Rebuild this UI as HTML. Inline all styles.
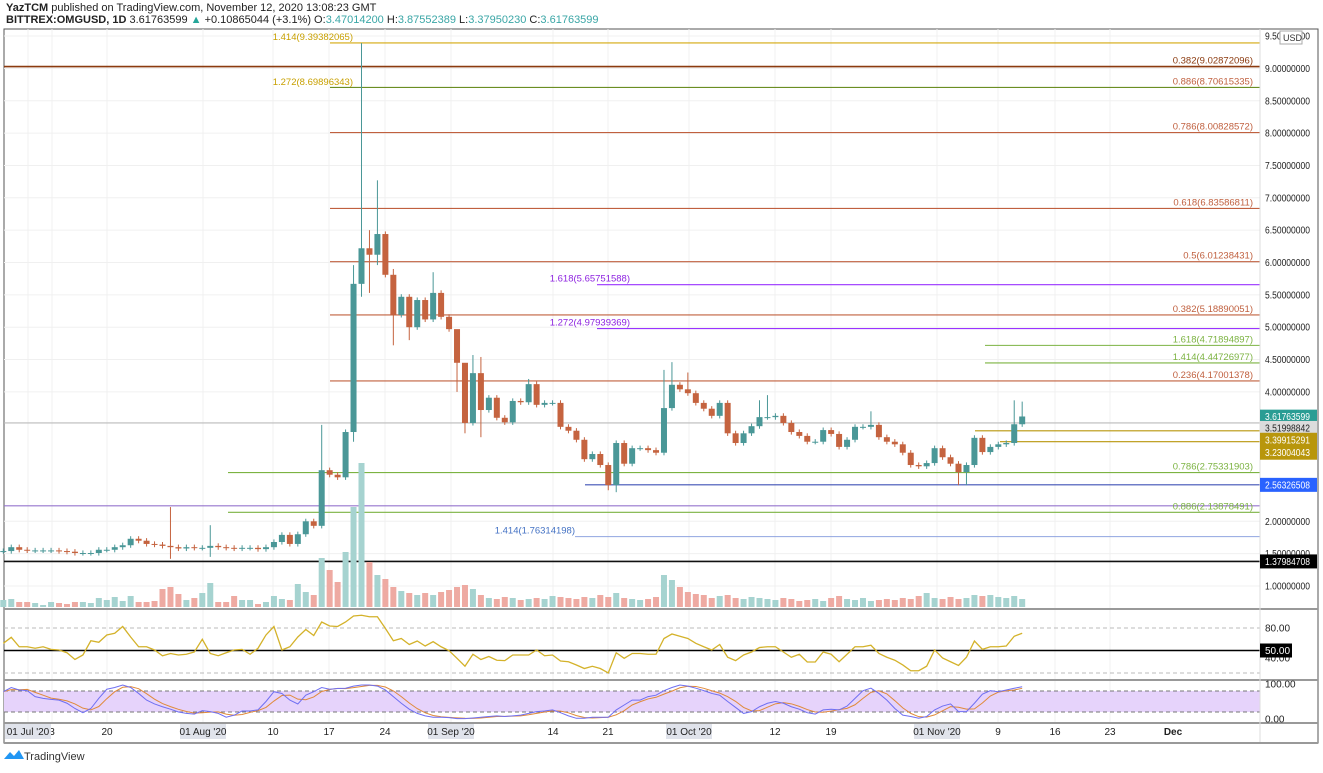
<!DOCTYPE html>
<html><head><meta charset="utf-8">
<style>
html,body{margin:0;padding:0;background:#fff;}
body{width:1323px;height:768px;overflow:hidden;font-family:"Liberation Sans",sans-serif;}
svg text{font-family:"Liberation Sans",sans-serif;}
</style></head>
<body>
<svg id="chart" width="1323" height="768" viewBox="0 0 1323 768" xmlns="http://www.w3.org/2000/svg">
  <text x="6" y="11" font-size="11" fill="#222"><tspan font-weight="bold">YazTCM</tspan> published on TradingView.com, November 12, 2020 13:08:23 GMT</text>
  <text x="6" y="23" font-size="11" fill="#222"><tspan font-weight="bold">BITTREX:OMGUSD, 1D</tspan> 3.61763599 <tspan fill="#26a69a">▲</tspan> +0.10865044 (+3.1%) O:<tspan fill="#3aa6a6">3.47014200</tspan> H:<tspan fill="#3aa6a6">3.87552389</tspan> L:<tspan fill="#3aa6a6">3.37950230</tspan> C:<tspan fill="#3aa6a6">3.61763599</tspan></text>
  <g id="grid"></g>
  <g id="fibs"></g>
  <g id="vol"></g>
  <g id="candles"></g>
  <g id="rsi"></g>
  <g id="stoch"></g>
  <g id="axes"></g>
  <g>
    <path d="M4 759 L10 752 L14 756 L19 750 L24 759 Z" fill="#2196f3"/>
    <text x="24" y="760" font-size="11" fill="#333">TradingView</text>
  </g>
</svg>
<script>
const closes=[1.54,1.60,1.56,1.55,1.55,1.55,1.55,1.54,1.53,1.51,1.51,1.51,1.56,1.56,1.60,1.63,1.73,1.70,1.65,1.64,1.62,1.60,1.58,1.60,1.59,1.59,1.62,1.60,1.59,1.58,1.59,1.59,1.57,1.60,1.68,1.79,1.65,1.80,2.00,1.93,2.79,
2.72,2.68,3.38,5.67,6.22,6.12,6.44,5.81,5.19,5.47,5.00,5.42,5.12,5.53,5.16,4.97,4.45,3.52,4.29,3.72,3.91,3.60,3.53,3.86,3.84,4.12,3.80,3.83,3.83,3.46,3.40,3.26,2.96,3.04,2.87,2.56,3.21,2.89,3.13,3.13,3.10,3.06,3.75,4.11,4.04,3.98,3.83,3.74,3.63,3.83,3.36,3.21,3.36,3.47,3.61,3.61,3.63,3.52,3.38,3.32,3.23,3.23,3.41,3.35,3.15,3.26,3.46,3.46,3.49,3.30,3.23,3.19,3.06,2.87,2.85,2.90,3.13,2.99,2.89,2.76,2.87,3.29,3.07,3.15,3.19,3.21,3.50,3.62];
const highOverride={21:2.22,26:1.94,40:3.49,44:5.96,45:9.39,46:6.5,47:7.27,49:5.9,54:5.85,57:4.9,58:4.2,59:4.57,60:4.54,66:4.2,83:4.34,84:4.46,86:4.3,95:3.87,96:3.95,109:3.7,127:3.87,128:3.85};
const lowOverride={21:1.42,26:1.45,44:3.23,45:5.47,46:5.53,47:5.96,49:4.72,51:4.8,57:4.0,58:3.36,60:3.3,76:2.48,77:2.45,120:2.56,121:2.56};
const volumes=[7,8,5,5,4,2,5,4,3,5,5,4,9,7,10,6,11,5,5,6,18,20,13,7,9,14,24,5,5,11,7,7,3,5,11,8,7,23,15,12,49,37,25,55,100,144,45,32,28,20,16,14,12,14,12,15,17,20,22,18,12,9,8,10,9,7,8,9,8,11,10,9,8,10,9,12,10,14,9,8,7,8,10,32,27,20,15,13,12,9,11,12,9,8,10,9,8,7,9,8,6,7,8,6,9,11,8,7,9,6,7,8,7,9,8,11,14,9,8,10,8,9,12,11,12,10,9,11,8];
const rsiValues=[59.6,67.6,55,55,53,55,51.5,50.7,47,38,44,63,61,70.7,73,82,68,55,55,50.7,43,46,44,45,48,65,46,43,47,50.7,51.5,45,53,70.7,82,50.7,55,68,78,70,88,82.7,82,88,96,97,95,95,79.5,63,66,58,62.7,56,61.8,55,49.8,39.6,29,45,38,42,37,36.5,44,44,44,50.7,43,44,36,35,30.7,26,29,26,20,47,39.6,46,46,45,45,66,72,69,66,59.6,55,50.7,58,41,36.5,44,48,54,55,55,48,41,45,34.7,34.7,48,45,35,45,55,55,57,46,41,37,30.7,23,23,29,50.7,40,35,30,41,62.7,51.5,55,55,56,69,73];
const stochK=[78,90,83,81,64,59,56,54,45,30,18,30,59,85,90,97,90,73,54,43,35,28,20,16,14,24,21,16,5,11,23,23,26,50,78,73,54,43,68,78,90,85,87,88,94,97,97,94,83,64,45,28,16,9,5,5,4,1,1,3,5,7,9,7,9,11,16,21,23,26,18,9,2,2,5,5,5,26,40,54,54,64,68,81,90,97,94,88,81,73,68,50,33,16,21,35,45,50,45,35,28,18,14,26,28,26,37,59,81,88,73,54,30,11,7,2,7,26,37,43,21,21,45,71,81,78,83,88,92];
const priceTicks=[9.5,9.0,8.5,8.0,7.5,7.0,6.5,6.0,5.5,5.0,4.5,4.0,2.0,1.5,1.0];
const timeLabels=[["3",52],["20",107],["10",273],["17",329],["24",385],["14",553],["21",608],["12",775],["19",831],["9",998],["16",1055],["23",1110]];
const monthLabels=[["01 Jul '20",28],["01 Aug '20",203],["01 Sep '20",451],["01 Oct '20",689],["01 Nov '20",937]];
const fibPrices=[9.39382065,9.02872096,8.70615335,8.00828572,6.83586811,6.01238431,5.65751588,5.18890051,4.97939369,4.71894897,4.44726977,4.17001378,3.51998842,3.39915291,3.23004043,2.75331903,2.56326508,2.24,2.13878491,1.76314198,1.37984708];
const fibLabels=["1.414(9.39382065)","0.382(9.02872096)","0.886(8.70615335)","0.786(8.00828572)","0.618(6.83586811)","0.5(6.01238431)","1.618(5.65751588)","0.382(5.18890051)","1.272(4.97939369)","1.618(4.71894897)","1.414(4.44726977)","0.236(4.17001378)","","","","0.786(2.75331903)","","","0.886(2.13878491)","1.414(1.76314198)",""];

const NS="http://www.w3.org/2000/svg";
function mk(tag,attrs,parent){const e=document.createElementNS(NS,tag);for(const k in attrs)e.setAttribute(k,attrs[k]);parent.appendChild(e);return e;}
const X=i=>3.3+7.96*i;
const Y=p=>586-(p-1)*64.7;
const RY=v=>650.5-(v-50)*0.75;
const SY=v=>712-(v-20)*0.35;
const PR=1260;

const grid=document.getElementById('grid');
mk('rect',{x:4,y:29,width:1314,height:714,fill:'none',stroke:'#555','stroke-width':1},grid);
priceTicks.forEach(p=>{mk('line',{x1:4,x2:PR,y1:Y(p),y2:Y(p),stroke:'#f0f0f0'},grid);});
timeLabels.concat(monthLabels).forEach(t=>{mk('line',{x1:t[1],x2:t[1],y1:29,y2:722,stroke:'#f0f0f0'},grid);});

const fibColors=["#d4a90f","#8b3a0f","#6b8e23","#c0603f","#c0603f","#c0603f","#9933ff","#c0603f","#9933ff","#7cb342","#7cb342","#c0603f","#bbbbbb","#b8960c","#b8960c","#7cb342","#3f51b5","#9575cd","#7cb342","#90a4e0","#111111"];
const fibStart=[330,4,330,330,330,330,597,330,597,985,985,330,4,975,1000,228,585,4,228,575,4];
const labelColors=["#c8a000","#8b3a0f","#c0603f","#c0603f","#c0603f","#c0603f","#8e24e0","#c0603f","#8e24e0","#7cb342","#7cb342","#c0603f","","","","#7cb342","","","#7cb342","#4472c4",""];
const fibs=document.getElementById('fibs');
fibPrices.forEach((p,i)=>{
  const l=mk('line',{x1:fibStart[i],x2:PR,y1:Y(p),y2:Y(p),stroke:fibColors[i],'stroke-width':(i==1||i==20)?1.6:1.1},fibs);
  
  
  if(fibLabels[i]){
    const left=(i==0||i==6||i==8||i==19);
    const t=mk('text',{x:left?(i==0?353:(i==19?575:630)):1253,y:Y(p)-3,'font-size':9.5,'text-anchor':'end',fill:labelColors[i]},fibs);
    t.textContent=fibLabels[i];
    
    
  }
});
const extra=mk('text',{x:353,y:Y(8.69896343)-3,'font-size':9.5,'text-anchor':'end',fill:'#c8a000'},fibs);
extra.textContent="1.272(8.69896343)";



const vol=document.getElementById('vol');
const vmax=Math.max(...volumes);
volumes.forEach((v,i)=>{
  const o=i?closes[i-1]:closes[0];const up=closes[i]>=o;
  const h=v/vmax*144;
  const r=mk('rect',{x:X(i)-3,y:607-h,width:6,height:h,fill:up?'#a6d3d0':'#eeaaa2'},vol);
  
  
});

const cg=document.getElementById('candles');
closes.forEach((c,i)=>{
  const o=i?closes[i-1]:c;const up=c>=o;
  const hi=highOverride[i]!==undefined?highOverride[i]:Math.max(o,c)+0.04;
  const lo=lowOverride[i]!==undefined?lowOverride[i]:Math.min(o,c)-0.04;
  const col=up?'#4a9797':'#c5633f';
  const w=mk('line',{x1:X(i),x2:X(i),y1:Y(hi),y2:Y(lo),stroke:col,'stroke-width':1},cg);
  
  
  const top=Y(Math.max(o,c)),bh=Math.max(1,Math.abs(Y(o)-Y(c)));
  const b=mk('rect',{x:X(i)-3,y:top,width:6,height:bh,fill:col},cg);
  
  
});

const rg=document.getElementById('rsi');
mk('line',{x1:4,x2:1318,y1:609,y2:609,stroke:'#999','stroke-width':2},rg);
mk('line',{x1:4,x2:PR,y1:RY(80),y2:RY(80),stroke:'#bbb','stroke-dasharray':'4 3'},rg);
mk('line',{x1:4,x2:PR,y1:RY(20),y2:RY(20),stroke:'#bbb','stroke-dasharray':'4 3'},rg);
mk('line',{x1:4,x2:PR,y1:RY(50),y2:RY(50),stroke:'#000','stroke-width':1.5},rg);
const rl=mk('polyline',{points:rsiValues.map((v,i)=>X(i)+','+RY(v)).join(' '),fill:'none',stroke:'#d4b22a','stroke-width':1.3},rg);


mk('line',{x1:4,x2:1318,y1:680,y2:680,stroke:'#999','stroke-width':2},rg);

const sg=document.getElementById('stoch');
mk('rect',{x:4,y:SY(80),width:PR-4,height:SY(20)-SY(80),fill:'#e6d3fb'},sg);
mk('line',{x1:4,x2:PR,y1:SY(80),y2:SY(80),stroke:'#777','stroke-dasharray':'4 3'},sg);
mk('line',{x1:4,x2:PR,y1:SY(20),y2:SY(20),stroke:'#777','stroke-dasharray':'4 3'},sg);
const stochD=stochK.map((v,i)=>{const a=stochK.slice(Math.max(0,i-2),i+1);return a.reduce((s,x)=>s+x,0)/a.length;});
const dl=mk('polyline',{points:stochD.map((v,i)=>X(i)+','+SY(v)).join(' '),fill:'none',stroke:'#e08a3a','stroke-width':1},sg);


const kl=mk('polyline',{points:stochK.map((v,i)=>X(i)+','+SY(v)).join(' '),fill:'none',stroke:'#6f6ff2','stroke-width':1},sg);


mk('line',{x1:4,x2:1318,y1:723,y2:723,stroke:'#999','stroke-width':2},sg);

const ax=document.getElementById('axes');
mk('line',{x1:PR,x2:PR,y1:29,y2:743,stroke:'#ddd'},ax);
mk('line',{x1:4,x2:1318,y1:743,y2:743,stroke:'#999','stroke-width':2},ax);
priceTicks.forEach(p=>{
  const t=mk('text',{x:1265,y:Y(p)+3.5,'font-size':10,fill:'#222',textLength:45,lengthAdjust:'spacingAndGlyphs'},ax);
  t.textContent=p.toFixed(8);
  
  
});
mk('rect',{x:1280,y:31,width:22,height:13,fill:'#fff',stroke:'#aaa'},ax);
const usd=mk('text',{x:1283,y:41,'font-size':9,fill:'#333'},ax);usd.textContent="USD";


const boxes=[[3.61763599,'#2a9d94','#fff',0],[3.51998842,'#dcdcdc','#222',5],[3.39915291,'#b8960c','#fff',9],[3.23004043,'#b8960c','#fff',11],[2.56326508,'#2962ff','#fff',0],[1.37984708,'#000','#fff',0]];
boxes.forEach(b=>{
  const y=Y(b[0])+b[3];
  mk('rect',{x:1260,y:y-7,width:57,height:14,fill:b[1]},ax);
  const t=mk('text',{x:1265,y:y+3.5,'font-size':10,fill:b[2],textLength:45,lengthAdjust:'spacingAndGlyphs'},ax);
  t.textContent=b[0].toFixed(8);
  
  
});
[[80,'80.00'],[40,'40.00']].forEach(r=>{const t=mk('text',{x:1265,y:RY(r[0])+3.5,'font-size':10,fill:'#222'},ax);t.textContent=r[1];

});
mk('rect',{x:1260,y:RY(50)-7,width:32,height:14,fill:'#000'},ax);
const f50=mk('text',{x:1265,y:RY(50)+3.5,'font-size':10,fill:'#fff'},ax);f50.textContent="50.00";


[[684,'100.00'],[719,'0.00']].forEach(r=>{const t=mk('text',{x:1265,y:r[0]+3.5,'font-size':10,fill:'#222'},ax);t.textContent=r[1];

});
timeLabels.forEach(l=>{const t=mk('text',{x:l[1],y:735,'font-size':10,fill:'#222','text-anchor':'middle'},ax);t.textContent=l[0];

});
const dec=mk('text',{x:1173,y:735,'font-size':10,fill:'#222','text-anchor':'middle','font-weight':'bold'},ax);dec.textContent="Dec";


monthLabels.forEach(l=>{
  mk('rect',{x:l[1]-23,y:724,width:46,height:15,fill:'#e0e3eb'},ax);
  const t=mk('text',{x:l[1],y:735,'font-size':10,fill:'#222','text-anchor':'middle'},ax);t.textContent=l[0];
  
  
});
</script>
</body></html>
